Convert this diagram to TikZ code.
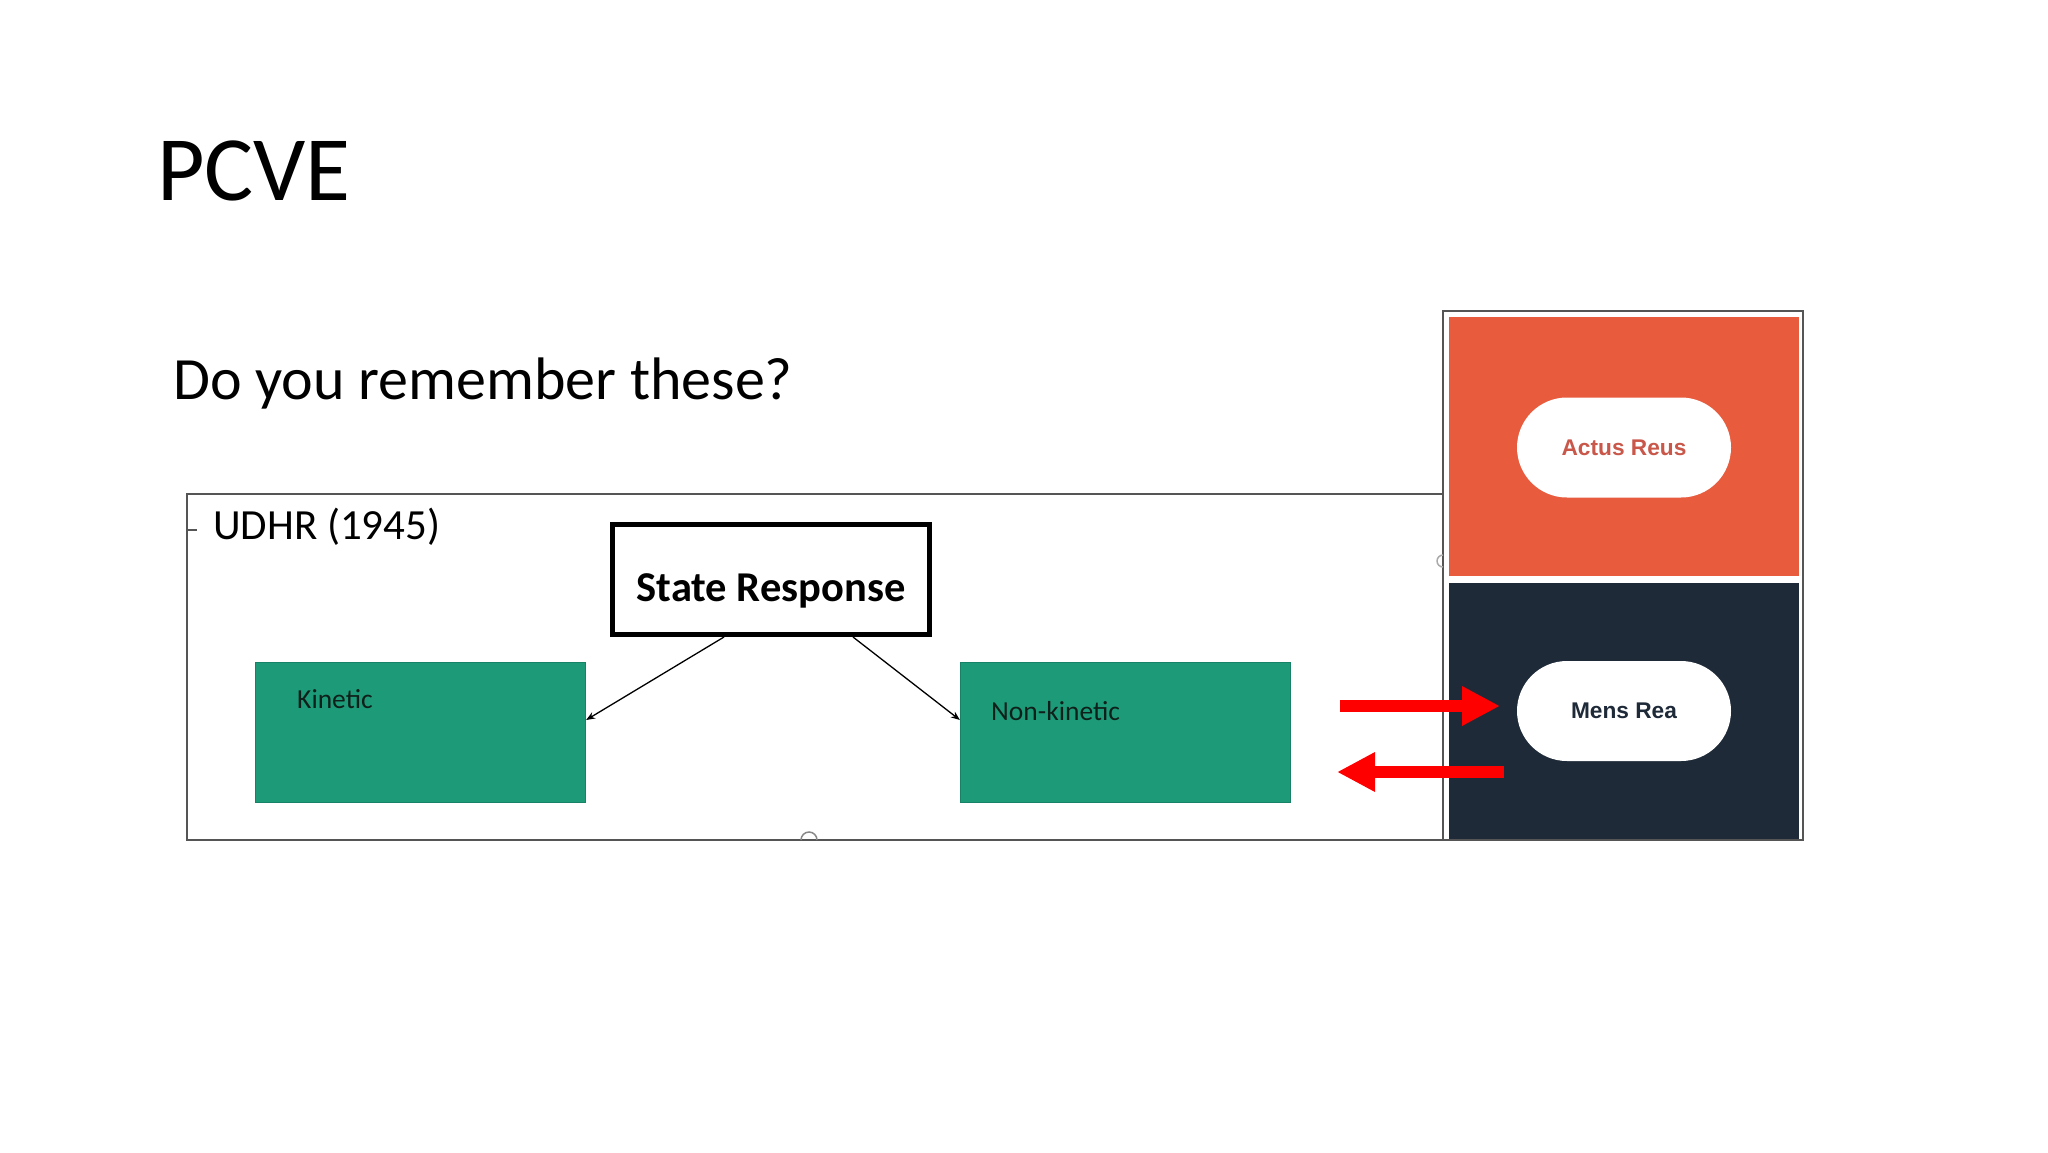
\documentclass[tikz,border=0pt]{standalone}
\usepackage{fontspec}
\setmainfont{Carlito}
\newfontfamily\arialf{Liberation Sans}
\usetikzlibrary{arrows.meta}
\definecolor{grn}{HTML}{1D9B79}
\definecolor{grnb}{HTML}{178266}
\definecolor{org}{HTML}{E85B3D}
\definecolor{navy}{HTML}{1F2A39}
\definecolor{actus}{HTML}{C9574A}
\definecolor{frame}{HTML}{555555}
\definecolor{txtgreen}{HTML}{0E2019}
\begin{document}
\begin{tikzpicture}[x=1pt,y=-1pt,
  txt/.style={inner sep=0pt, anchor=base west},
  greenbox/.style={draw=grnb, fill=grn, line width=1.2pt, minimum width=330pt, minimum height=140pt, inner sep=0pt},
  srbox/.style={draw=black, line width=5pt, fill=white, minimum width=317pt, minimum height=110pt, inner sep=0pt},
  pill/.style={fill=white, rounded corners=50pt, minimum width=214pt, minimum height=100pt, inner sep=0pt, font=\arialf\bfseries\fontsize{22.7}{27}\selectfont},
  conn/.style={draw=black, line width=1.3pt, -{Stealth[length=9pt,width=7pt]}},
  redarrow/.style={draw=red, line width=12.5pt, -{Triangle[length=38pt,width=37pt]}}
]
\fill[white] (0,0) rectangle (2048,1152);
\useasboundingbox (0,0) rectangle (2048,1152);

% titles
\node[txt, font=\fontsize{92}{110}\selectfont] (title) at (157,200) {PCVE};
\node[txt, font=\fontsize{60}{72}\selectfont] (sub) at (173,399) {Do you remember these?};

% UDHR frame
\node[draw=frame, line width=2.5pt, minimum width=1256pt, minimum height=346pt, inner sep=0pt] (udhr) at (815,667) {};
\draw[frame!70, line width=1.5pt] (801,840) arc (180:360:8);
\draw[frame, line width=2pt] (187,530) -- (197,530);
\node[txt, font=\fontsize{43}{52}\selectfont] (udhrt) at (213,539) {UDHR (1945)};

% state response
\node[srbox] (sr) at (771,579.5) {};
\node[inner sep=0pt, anchor=base, font=\bfseries\fontsize{42.5}{51}\selectfont] (srt) at (771,601) {State Response};

% green boxes
\node[greenbox] (kin) at (420.5,732.5) {};
\node[txt, font=\fontsize{27.5}{33}\selectfont, text=txtgreen] (kint) at (297,708) {Kinetic};
\node[greenbox] (nk) at (1125.5,732.5) {};
\node[txt, font=\fontsize{27.5}{33}\selectfont, text=txtgreen] (nkt) at (991,720) {Non-kinetic};

\draw[conn] ([xshift=-47pt]sr.south) -- ([yshift=12.5pt]kin.east);
\draw[conn] ([xshift=82pt]sr.south) -- ([yshift=12.5pt]nk.west);

% right panel
\node[draw=frame, line width=2.5pt, fill=white, minimum width=360pt, minimum height=529pt, inner sep=0pt] (panel) at (1623,575.5) {};
\draw[frame!50, line width=1.5pt] (1443,567) arc (90:270:6);
\node[fill=org, minimum width=350pt, minimum height=259pt, inner sep=0pt] (top) at (1624,446.5) {};
\node[fill=navy, minimum width=350pt, minimum height=256pt, inner sep=0pt] (bot) at (1624,710.5) {};
\node[pill, text=actus] (actus) at (1624,447.5) {Actus Reus};
\node[pill, text=navy] (mens) at (1624,711) {Mens Rea};

% red arrows
\coordinate (r1a) at (1340,706);
\coordinate (r1b) at (1500,706);
\coordinate (r2a) at (1504,772);
\coordinate (r2b) at (1337,772);
\draw[redarrow] (r1a) -- (r1b);
\draw[redarrow] (r2a) -- (r2b);
\end{tikzpicture}
\end{document}
